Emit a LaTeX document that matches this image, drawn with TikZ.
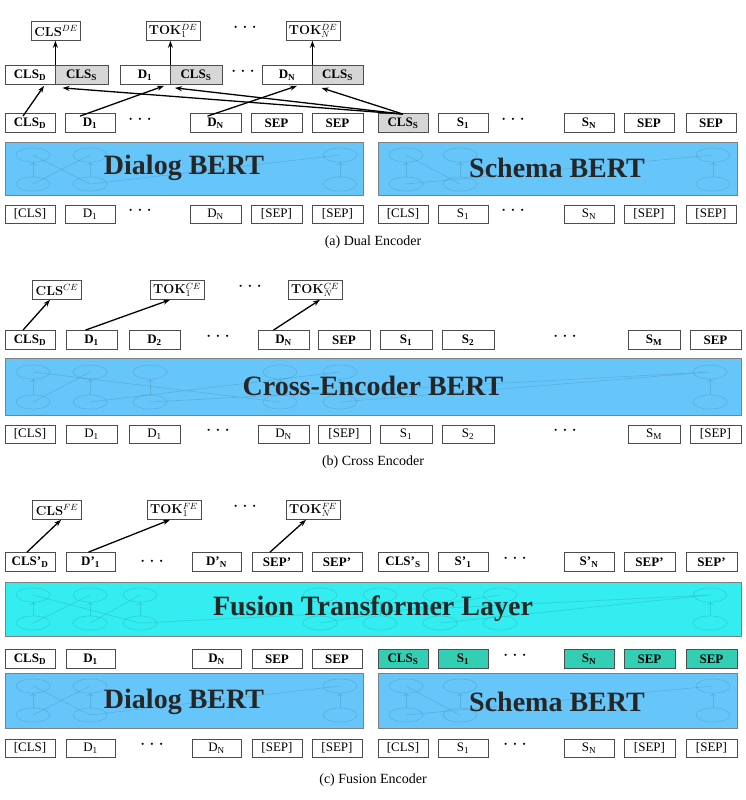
\documentclass[tikz,border=0pt]{standalone}
\usepackage{fontspec}
\setmainfont{Liberation Serif}
\newfontfamily\lmr{Latin Modern Roman}
\usetikzlibrary{arrows.meta}
\definecolor{bertblue}{HTML}{66C6FA}
\definecolor{fusecyan}{HTML}{33EDF0}
\definecolor{teal2}{HTML}{33CFB5}
\definecolor{greybox}{HTML}{D6D6D6}
\tikzset{
  tok/.style={draw=black!70, line width=0.8pt, minimum height=19pt, inner sep=0pt, font=\fontsize{13}{13}\selectfont\bfseries, fill=white},
  inp/.style={draw=black!70, line width=0.6pt, minimum height=18pt, inner sep=0pt, font=\fontsize{13}{13}\selectfont, fill=white},
  outb/.style={draw=black!70, line width=0.6pt, minimum height=19pt, inner xsep=3pt, inner ysep=1pt, font=\fontsize{13}{13}\selectfont, fill=white},
  bert/.style={draw=black!50, line width=0.8pt, fill=bertblue, inner sep=0pt},
  big/.style={font=\fontsize{28}{28}\selectfont\bfseries, text=black!85},
  captext/.style={font=\fontsize{14}{14}\selectfont},
  arr/.style={-{Stealth[length=7pt,width=5pt]}, line width=1.3pt},
  dots/.style={font=\fontsize{20}{20}\selectfont\bfseries},
  net/.style={draw=black, opacity=0.1, line width=0.7pt}
}
\newcommand{\ob}[1]{{\lmr\bfseries #1}}
\newcommand{\netfig}[3]{% x-list, ytop, ybot
  \foreach \xx in {#1}{
    \draw[net] (\xx,#2) ellipse (17 and 7);
    \draw[net] (\xx,#3) ellipse (17 and 7);
    \draw[net,->] (\xx,#3-7) -- (\xx,#2+7);
  }}
\begin{document}
\begin{tikzpicture}[x=1pt,y=-1pt]
\useasboundingbox (0,0) rectangle (745,800);
% ================= (a) =================
\node[bert, minimum width=358pt, minimum height=53pt] (dbA) at (184,168.5) {};
\node[bert, minimum width=359pt, minimum height=53pt] (sbA) at (557.5,168.5) {};
\netfig{33,90,340}{155}{184}
\netfig{406,460,713}{155}{184}
\draw[net] (33,184)--(90,155) (90,184)--(340,155) (33,155)--(90,184) (406,184)--(713,155) (460,184)--(406,155);
\node[big] at (184,168) {Dialog BERT};
\node[big] at (557,168) {Schema BERT};
% tokens
\node[tok, minimum width=50pt] (a1) at (30,123) {CLS\textsubscript{D}};
\node[tok, minimum width=50pt] (a2) at (90,123) {D\textsubscript{1}};
\node[dots] at (140,120) {$\cdots$};
\node[tok, minimum width=51pt] (a3) at (215.5,123) {D\textsubscript{N}};
\node[tok, minimum width=51pt] (a4) at (276.5,123) {SEP};
\node[tok, minimum width=51pt] (a5) at (337.5,123) {SEP};
\node[tok, minimum width=50pt, fill=greybox] (a6) at (403,123) {CLS\textsubscript{S}};
\node[tok, minimum width=50pt] (a7) at (463,123) {S\textsubscript{1}};
\node[dots] at (513,120) {$\cdots$};
\node[tok, minimum width=50pt] (a8) at (589,123) {S\textsubscript{N}};
\node[tok, minimum width=50pt] (a9) at (649,123) {SEP};
\node[tok, minimum width=50pt] (a10) at (711,123) {SEP};
% inputs
\foreach \lab/\x/\w [count=\i] in {[CLS]/30/50, D\textsubscript{1}/90/50, D\textsubscript{N}/215.5/51, [SEP]/276.5/51, [SEP]/337.5/51, [CLS]/403/50, S\textsubscript{1}/463/50, S\textsubscript{N}/589/50, [SEP]/649/50, [SEP]/711/50}
  \node[inp, minimum width=\w pt] (ai\i) at (\x,214) {\lab};
\node[dots] at (140,211) {$\cdots$};
\node[dots] at (513,211) {$\cdots$};
\node[captext] (capA) at (373,242) {(a) Dual Encoder};
% pairs
\node[tok, minimum width=50pt] (p1) at (30,75) {CLS\textsubscript{D}};
\node[tok, minimum width=53pt, fill=greybox] (p1s) at (81.5,75) {CLS\textsubscript{S}};
\node[tok, minimum width=50pt] (p2) at (145,75) {D\textsubscript{1}};
\node[tok, minimum width=52pt, fill=greybox] (p2s) at (196,75) {CLS\textsubscript{S}};
\node[dots] at (243,72) {$\cdots$};
\node[tok, minimum width=50pt] (p3) at (287,75) {D\textsubscript{N}};
\node[tok, minimum width=51pt, fill=greybox] (p3s) at (337.5,75) {CLS\textsubscript{S}};
% outputs
\node[outb] (o1) at (56,31) {\ob{CLS}$^{DE}$};
\node[outb] (o2) at (173,31) {\ob{TOK}$_1^{DE}$};
\node[dots] at (245,28) {$\cdots$};
\node[outb] (o3) at (313,31) {\ob{TOK}$_N^{DE}$};
\draw[arr] (p1.north east) -- (o1.south -| p1.north east);
\draw[arr] (p2.north east) -- (o2.south -| p2.north east);
\draw[arr] (p3.north east) -- (o3.south -| p3.north east);
\draw[arr] ([xshift=-7pt,yshift=-3pt]a1.north) -- ([xshift=14pt,yshift=-1pt]p1.south);
\draw[arr] ([xshift=-10pt,yshift=-3pt]a2.north) -- ([xshift=19pt,yshift=-1pt]p2.south);
\draw[arr] ([xshift=-8pt,yshift=-3pt]a3.north) -- ([xshift=10pt,yshift=-1pt]p3.south);
\coordinate (cs) at ([yshift=-1pt]a6.north);
\draw[arr] (cs) -- ([xshift=-16pt,yshift=-3pt]p3s.south);
\draw[arr] (cs) -- ([xshift=-21pt,yshift=-3pt]p2s.south);
\draw[arr] (cs) -- ([xshift=-19pt,yshift=-3pt]p1s.south);
% ================= (b) =================
\node[bert, minimum width=736pt, minimum height=57pt] (cb) at (373,386.5) {};
\netfig{33,90,150,280,340,710}{372}{402}
\draw[net] (33,402)--(90,372) (90,402)--(340,372) (150,402)--(710,372) (280,402)--(33,372) (340,402)--(710,372);
\node[big] at (373,386) {Cross-Encoder BERT};
\foreach \lab/\x/\w [count=\i] in {CLS\textsubscript{D}/30/50, D\textsubscript{1}/91.5/51, D\textsubscript{2}/154.5/51, D\textsubscript{N}/283.5/51, SEP/344/52, S\textsubscript{1}/406/52, S\textsubscript{2}/468/52, S\textsubscript{M}/654/52, SEP/715.5/51}
  \node[tok, minimum width=\w pt] (b\i) at (\x,340) {\lab};
\node[dots] at (218,337) {$\cdots$};
\node[dots] at (565,337) {$\cdots$};
\foreach \lab/\x/\w [count=\i] in {[CLS]/30/50, D\textsubscript{1}/91.5/51, D\textsubscript{1}/154.5/51, D\textsubscript{N}/283.5/51, [SEP]/344/52, S\textsubscript{1}/406/52, S\textsubscript{2}/468/52, S\textsubscript{M}/654/52, [SEP]/715.5/51}
  \node[inp, minimum width=\w pt] (bi\i) at (\x,434) {\lab};
\node[dots] at (218,431) {$\cdots$};
\node[dots] at (565,431) {$\cdots$};
\node[captext] (capB) at (373,462) {(b) Cross Encoder};
\node[outb] (q1) at (57,290) {\ob{CLS}$^{CE}$};
\node[outb] (q2) at (177,290) {\ob{TOK}$_1^{CE}$};
\node[dots] at (250,287) {$\cdots$};
\node[outb] (q3) at (315,290) {\ob{TOK}$_N^{CE}$};
\draw[arr] ([xshift=-7pt]b1.north) -- ([xshift=-7pt]q1.south);
\draw[arr] ([xshift=-6pt]b2.north) -- ([xshift=-7pt]q2.south);
\draw[arr] ([xshift=-10pt]b4.north) -- ([xshift=5pt]q3.south);
% ================= (c) =================
\node[bert, fill=fusecyan, minimum width=736pt, minimum height=54pt] (fb) at (373,609) {};
\netfig{33,90,140,320,380,440,500,710}{595}{623}
\draw[net] (33,623)--(90,595) (90,623)--(140,595) (33,595)--(140,623) (140,623)--(710,595) (320,623)--(500,595) (440,623)--(710,595);
\node[big] at (373,609) {Fusion Transformer Layer};
\node[bert, minimum width=358pt, minimum height=55pt] (dbC) at (184,700.5) {};
\node[bert, minimum width=359pt, minimum height=55pt] (sbC) at (557.5,700.5) {};
\netfig{33,90,340}{686}{715}
\netfig{406,460,713}{686}{715}
\draw[net] (33,715)--(90,686) (90,715)--(340,686) (33,686)--(90,715) (406,715)--(713,686) (460,715)--(406,686);
\node[big] at (184,702) {Dialog BERT};
\node[big] at (557,702) {Schema BERT};
\foreach \lab/\x/\w [count=\i] in {CLS'\textsubscript{D}/30/50, D'\textsubscript{1}/90.5/49, D'\textsubscript{N}/216.5/49, SEP'/277/50, SEP'/337/50, CLS'\textsubscript{S}/403/50, S'\textsubscript{1}/463/50, S'\textsubscript{N}/589/50, SEP'/649.5/51, SEP'/711.5/51}
  \node[tok, minimum width=\w pt] (c\i) at (\x,562) {\lab};
\node[dots] at (152,562) {$\cdots$};
\node[dots] at (515,559) {$\cdots$};
\foreach \lab/\x/\w/\f [count=\i] in {CLS\textsubscript{D}/30/50/white, D\textsubscript{1}/90.5/49/white, D\textsubscript{N}/216.5/49/white, SEP/277/50/white, SEP/337/50/white, CLS\textsubscript{S}/403/50/teal2, S\textsubscript{1}/463/50/teal2, S\textsubscript{N}/589/50/teal2, SEP/649.5/51/teal2, SEP/711.5/51/teal2}
  \node[tok, fill=\f, minimum width=\w pt] (cm\i) at (\x,659) {\lab};
\node[dots] at (515,656) {$\cdots$};
\foreach \lab/\x/\w [count=\i] in {[CLS]/30/50, D\textsubscript{1}/90.5/49, D\textsubscript{N}/216.5/49, [SEP]/277/50, [SEP]/337/50, [CLS]/403/50, S\textsubscript{1}/463/50, S\textsubscript{N}/589/50, [SEP]/649.5/51, [SEP]/711.5/51}
  \node[inp, minimum width=\w pt] (ci\i) at (\x,748) {\lab};
\node[dots] at (152,745) {$\cdots$};
\node[dots] at (515,745) {$\cdots$};
\node[captext] (capC) at (373,780) {(c) Fusion Encoder};
\node[outb] (r1) at (57,510) {\ob{CLS}$^{FE}$};
\node[outb] (r2) at (174,510) {\ob{TOK}$_1^{FE}$};
\node[dots] at (245,507) {$\cdots$};
\node[outb] (r3) at (313,510) {\ob{TOK}$_N^{FE}$};
\draw[arr] ([xshift=-3pt]c1.north) -- ([xshift=4pt]r1.south);
\draw[arr] ([xshift=-2pt]c2.north) -- ([xshift=-4pt]r2.south);
\draw[arr] ([xshift=-7pt]c4.north) -- ([xshift=-7pt]r3.south);
\end{tikzpicture}
\end{document}
